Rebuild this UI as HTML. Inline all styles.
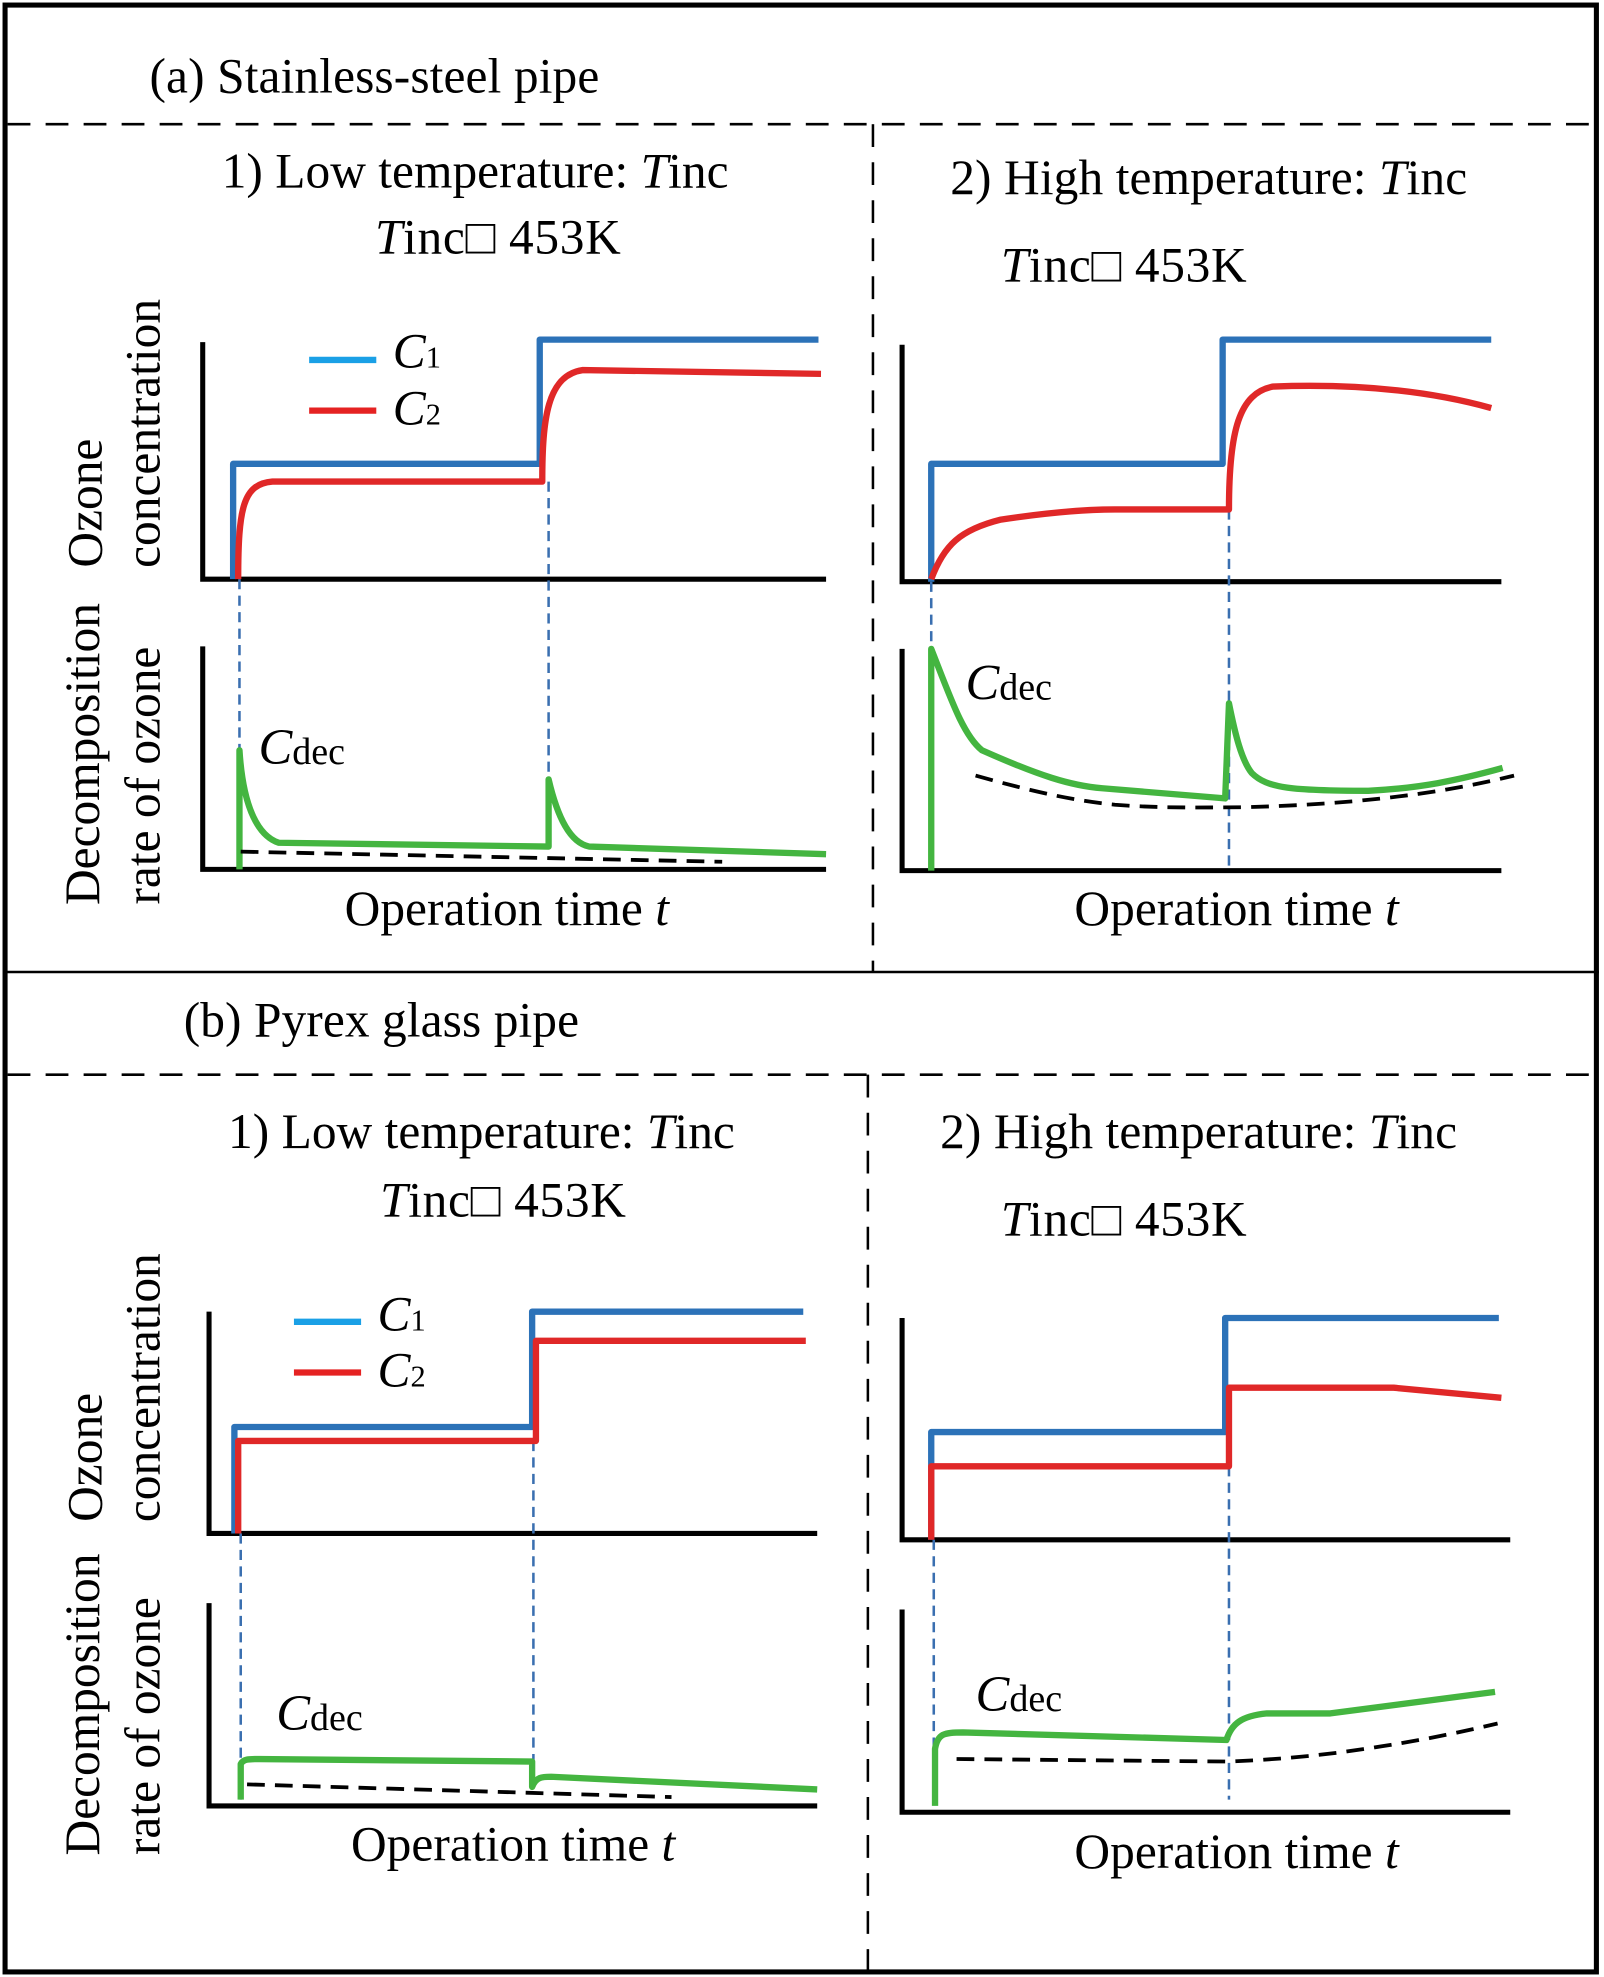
<!DOCTYPE html>
<html><head><meta charset="utf-8"><style>
html,body{margin:0;padding:0;background:#fff}
svg{display:block}
text{font-family:"Liberation Serif",serif;fill:#000}
</style></head><body>
<svg width="1604" height="1977" viewBox="0 0 1266 1560" preserveAspectRatio="none" xmlns="http://www.w3.org/2000/svg">
<rect x="0" y="0" width="1266" height="1560" fill="#fff"/>
<rect x="4" y="4" width="1256" height="1552" fill="none" stroke="#000" stroke-width="4"/>
<line x1="4" y1="767" x2="1262" y2="767" stroke="#000" stroke-width="2"/>
<g stroke="#000" stroke-width="2" stroke-dasharray="18,12" fill="none">
<line x1="6" y1="98" x2="1260" y2="98"/>
<line x1="6" y1="848" x2="1260" y2="848"/>
<line x1="689" y1="98" x2="689" y2="767"/>
<line x1="685" y1="848" x2="685" y2="1556"/>
</g>
<g font-size="39">
<text x="118" y="73" textLength="355">(a) Stainless-steel pipe</text>
<text x="145" y="818" textLength="312">(b) Pyrex glass pipe</text>
<text x="175" y="148" textLength="400">1) Low temperature: <tspan font-style="italic">T</tspan>inc</text>
<text x="296" y="200" textLength="194"><tspan font-style="italic">T</tspan>inc□  453K</text>
<text x="750" y="153" textLength="408">2) High temperature: <tspan font-style="italic">T</tspan>inc</text>
<text x="790" y="222" textLength="194"><tspan font-style="italic">T</tspan>inc□  453K</text>
<text x="180" y="906" textLength="400">1) Low temperature: <tspan font-style="italic">T</tspan>inc</text>
<text x="300" y="960" textLength="194"><tspan font-style="italic">T</tspan>inc□  453K</text>
<text x="742" y="906" textLength="408">2) High temperature: <tspan font-style="italic">T</tspan>inc</text>
<text x="790" y="975" textLength="194"><tspan font-style="italic">T</tspan>inc□  453K</text>
<text x="272" y="730" textLength="256">Operation time <tspan font-style="italic">t</tspan></text>
<text x="848" y="730" textLength="256">Operation time <tspan font-style="italic">t</tspan></text>
<text x="277" y="1468" textLength="256">Operation time <tspan font-style="italic">t</tspan></text>
<text x="848" y="1474" textLength="256">Operation time <tspan font-style="italic">t</tspan></text>
<text transform="translate(80,397) rotate(-90)" text-anchor="middle">Ozone</text>
<text transform="translate(126,342) rotate(-90)" text-anchor="middle">concentration</text>
<text transform="translate(78,595) rotate(-90)" text-anchor="middle">Decomposition</text>
<text transform="translate(126,612) rotate(-90)" text-anchor="middle">rate of ozone</text>
<text transform="translate(80,1150) rotate(-90)" text-anchor="middle">Ozone</text>
<text transform="translate(126,1095) rotate(-90)" text-anchor="middle">concentration</text>
<text transform="translate(78,1345) rotate(-90)" text-anchor="middle">Decomposition</text>
<text transform="translate(126,1362) rotate(-90)" text-anchor="middle">rate of ozone</text>
<text x="310" y="290" font-style="italic">C<tspan font-size="24" font-style="normal">1</tspan></text>
<text x="310" y="335" font-style="italic">C<tspan font-size="24" font-style="normal">2</tspan></text>
<text x="298" y="1050" font-style="italic">C<tspan font-size="24" font-style="normal">1</tspan></text>
<text x="298" y="1094" font-style="italic">C<tspan font-size="24" font-style="normal">2</tspan></text>
<text x="204" y="603" font-size="40" font-style="italic">C<tspan font-size="30" font-style="normal">dec</tspan></text>
<text x="762" y="552" font-size="40" font-style="italic">C<tspan font-size="30" font-style="normal">dec</tspan></text>
<text x="218" y="1365" font-size="40" font-style="italic">C<tspan font-size="30" font-style="normal">dec</tspan></text>
<text x="770" y="1350" font-size="40" font-style="italic">C<tspan font-size="30" font-style="normal">dec</tspan></text>
</g>
<g stroke-width="5">
<line x1="244" y1="284" x2="297" y2="284" stroke="#1aa0e6"/>
<line x1="244" y1="324" x2="297" y2="324" stroke="#e52222"/>
<line x1="232" y1="1043" x2="285" y2="1043" stroke="#1aa0e6"/>
<line x1="232" y1="1083" x2="285" y2="1083" stroke="#e52222"/>
</g>
<g stroke="#000" stroke-width="4" fill="none">
<path d="M160 270 V457 H652"/>
<path d="M160 510 V686 H652"/>
<path d="M712 272 V459 H1185"/>
<path d="M712 512 V687 H1185"/>
<path d="M165 1035 V1210 H645"/>
<path d="M165 1265 V1425 H645"/>
<path d="M712 1040 V1215 H1192"/>
<path d="M712 1270 V1430 H1192"/>
</g>
<g stroke="#3a6fb0" stroke-width="2" stroke-dasharray="8,5">
<line x1="189" y1="457" x2="189" y2="590"/>
<line x1="433" y1="380" x2="433" y2="610"/>
<line x1="735" y1="459" x2="735" y2="510"/>
<line x1="970" y1="402" x2="970" y2="685"/>
<line x1="190" y1="1210" x2="190" y2="1420"/>
<line x1="421" y1="1137" x2="421" y2="1410"/>
<line x1="737" y1="1215" x2="737" y2="1420"/>
<line x1="970" y1="1157" x2="970" y2="1420"/>
</g>
<g fill="none" stroke-width="5" stroke-linejoin="round">
<path d="M184 457 V366 H426 V268 H646" stroke="#2c72b8"/>
<path d="M188 457 C188 400 192 382 215 380 H428 C428 330 432 296 460 292 L648 295" stroke="#e02828"/>
<path d="M189 686 V592 C192 640 205 660 220 665 L433 668 V615 C440 645 450 665 465 668 L652 674" stroke="#44b540"/>
<path d="M735 459 V366 H965 V268 H1177" stroke="#2c72b8"/>
<path d="M735 457 C745 430 758 418 790 410 C830 404 860 402 880 402 H970 C970 340 978 310 1005 305 C1060 303 1120 306 1177 322" stroke="#e02828"/>
<path d="M735 687 V512 C750 550 760 580 775 592 C820 612 845 620 870 622 L967 630 L970 555 C975 580 980 600 988 610 C1000 622 1020 624 1080 624 C1120 622 1150 616 1186 606" stroke="#44b540"/>
<path d="M185 1210 V1126 H420 V1035 H634" stroke="#2c72b8"/>
<path d="M188 1210 V1137 H423 V1058 H636" stroke="#e02828"/>
<path d="M190 1420 V1392 C192 1388 196 1388 205 1388 L420 1390 V1410 C423 1402 428 1402 435 1402 L645 1412" stroke="#44b540"/>
<path d="M735 1215 V1130 H967 V1040 H1183" stroke="#2c72b8"/>
<path d="M735 1215 V1157 H970 V1095 H1100 L1185 1103" stroke="#e02828"/>
<path d="M738 1425 V1380 C740 1368 745 1367 760 1367 L968 1373 C972 1360 980 1354 1000 1352 L1050 1352 L1180 1335" stroke="#44b540"/>
</g>
<g fill="none" stroke="#000" stroke-width="3" stroke-dasharray="14,8">
<path d="M190 672 L570 680"/>
<path d="M770 612 C820 626 850 632 880 635 C920 638 950 637 980 637 C1060 635 1130 628 1195 612"/>
<path d="M195 1408 L530 1418"/>
<path d="M755 1388 L970 1390 C1020 1388 1060 1383 1090 1378 C1130 1372 1160 1365 1182 1360"/>
</g>
</svg>
</body></html>
